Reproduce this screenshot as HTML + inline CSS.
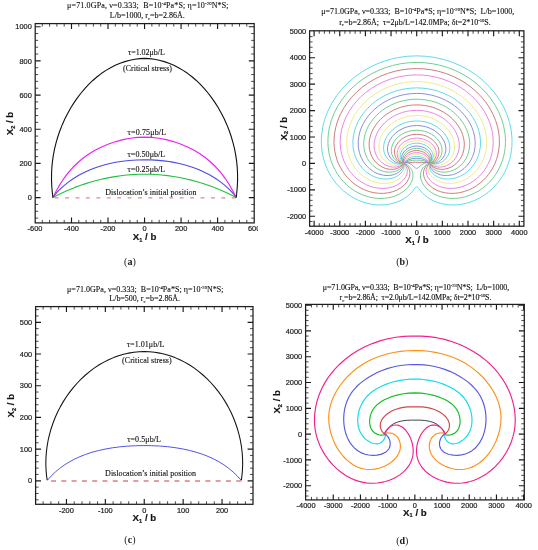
<!DOCTYPE html>
<html><head><meta charset="utf-8"><title>Frank-Read source</title><style>
html,body{margin:0;padding:0;background:#fff;}
svg{display:block;}
.tl{font-family:"Liberation Sans",Arial,sans-serif;font-size:7.4px;fill:#1c1c1c;stroke:#1c1c1c;stroke-width:0.2px;}
.sf{font-family:"Liberation Serif","Times New Roman",serif;font-size:8px;fill:#111;stroke:#111;stroke-width:0.12px;}
.sp{font-size:4.7px;}
.at{font-family:"Liberation Sans",Arial,sans-serif;font-size:9.7px;font-weight:bold;fill:#111;stroke:#111;stroke-width:0.15px;}
.sb{font-size:5.6px;}
.cap{font-family:"Liberation Serif","Times New Roman",serif;font-size:10px;fill:#1a1a1a;}
</style></head><body>
<svg width="538" height="550" viewBox="0 0 538 550">
<rect width="538" height="550" fill="#fff"/>
<defs><clipPath id="ca"><rect x="0" y="0" width="258" height="275"/></clipPath></defs>
<line x1="54.65" y1="197.8" x2="236.5" y2="197.8" stroke="#e48888" stroke-width="1.3" stroke-dasharray="3.9 6.52"/>
<path d="M53.1 197.5 56.81 195.48 62.98 192.5 68.56 190.02 74.4 187.64 79.95 185.57 85.74 183.61 91.6 181.83 97.33 180.27 103.29 178.84 109.1 177.62 114.95 176.59 120.82 175.73 126.72 175.05 132.44 174.58 138.36 174.28 144.1 174.19 149.97 174.26 155.7 174.52 161.62 174.98 167.52 175.63 173.4 176.47 179.43 177.52 185.25 178.71 191.21 180.13 197.13 181.72 202.99 183.5 208.79 185.45 214.53 187.57 220.36 189.94 226.12 192.5 232.29 195.48 236 197.5" fill="none" stroke="#22c040" stroke-width="1.1" stroke-linejoin="round" />
<path d="M53.1 197.5 52.9 197.17 53.81 196.04 56.36 193.08 59.16 190.11 63.75 185.83 68.6 181.91 73.54 178.45 78.68 175.32 84.19 172.42 90.07 169.77 96.11 167.46 102.29 165.47 108.78 163.75 115.57 162.31 122.44 161.21 129.35 160.43 136.49 159.95 143.82 159.79 151.39 159.9 158.53 160.33 165.65 161.08 172.52 162.13 179.32 163.52 186.03 165.24 192.42 167.26 198.47 169.54 204.37 172.16 209.9 175.03 215.23 178.23 220.17 181.67 225.2 185.69 229.79 189.97 232.6 192.92 235.16 195.88 236.2 197.17 236 197.5" fill="none" stroke="#4a4ae8" stroke-width="1.1" stroke-linejoin="round" />
<path d="M53.1 197.5 53.08 197.23 55.85 191.68 60.05 184.26 64.13 178.04 68.5 172.31 72.97 167.29 77.94 162.47 83.25 158.05 88.87 154.03 94.98 150.32 101.58 146.97 108.63 144.02 115.87 141.55 123.01 139.64 130.25 138.26 137.35 137.43 144.55 137.14 151.75 137.43 158.85 138.26 166.09 139.64 173.23 141.55 180.47 144.02 187.52 146.97 194.12 150.32 200.23 154.03 205.85 158.05 211.16 162.47 216.13 167.29 220.6 172.31 224.97 178.04 229.05 184.26 233.25 191.68 236.02 197.23 236 197.5" fill="none" stroke="#f020f0" stroke-width="1.2" stroke-linejoin="round" />
<path d="M53.1 197.5 52.91 197.27 52.46 193.9 51.78 186.49 51.51 180.11 51.55 173.41 51.87 167.41 52.49 161.12 53.41 154.88 54.62 148.68 56.11 142.55 57.9 136.48 59.96 130.5 62.18 124.9 64.79 119.08 67.52 113.66 70.67 108.05 73.91 102.87 77.38 97.84 80.87 93.25 84.8 88.6 88.71 84.41 92.81 80.46 97.11 76.76 101.6 73.33 106 70.37 110.56 67.69 115.27 65.31 120.14 63.25 124.84 61.61 129.96 60.22 134.85 59.25 139.8 58.62 144.55 58.36 149.3 58.62 154.25 59.25 159.14 60.22 164.26 61.61 168.96 63.25 173.83 65.31 178.54 67.69 183.1 70.37 187.5 73.33 191.99 76.76 196.29 80.46 200.39 84.41 204.3 88.6 208.23 93.25 211.72 97.84 215.19 102.87 218.43 108.05 221.58 113.66 224.31 119.08 226.92 124.9 229.14 130.5 231.2 136.48 232.99 142.55 234.48 148.68 235.69 154.88 236.61 161.12 237.23 167.41 237.55 173.41 237.59 180.11 237.32 186.49 236.64 193.9 236.19 197.27 236 197.5" fill="none" stroke="#111" stroke-width="1.1" stroke-linejoin="round" />
<path d="M42.28 222.9v-3M42.28 23.6v3M49.58 222.9v-3M49.58 23.6v3M56.89 222.9v-3M56.89 23.6v3M64.19 222.9v-3M64.19 23.6v3M78.8 222.9v-3M78.8 23.6v3M86.11 222.9v-3M86.11 23.6v3M93.41 222.9v-3M93.41 23.6v3M100.72 222.9v-3M100.72 23.6v3M115.33 222.9v-3M115.33 23.6v3M122.63 222.9v-3M122.63 23.6v3M129.94 222.9v-3M129.94 23.6v3M137.24 222.9v-3M137.24 23.6v3M151.86 222.9v-3M151.86 23.6v3M159.16 222.9v-3M159.16 23.6v3M166.47 222.9v-3M166.47 23.6v3M173.77 222.9v-3M173.77 23.6v3M188.38 222.9v-3M188.38 23.6v3M195.69 222.9v-3M195.69 23.6v3M202.99 222.9v-3M202.99 23.6v3M210.3 222.9v-3M210.3 23.6v3M224.91 222.9v-3M224.91 23.6v3M232.21 222.9v-3M232.21 23.6v3M239.52 222.9v-3M239.52 23.6v3M246.82 222.9v-3M246.82 23.6v3M35.2 218.11h3M254.2 218.11h-3M35.2 211.27h3M254.2 211.27h-3M35.2 204.44h3M254.2 204.44h-3M35.2 190.76h3M254.2 190.76h-3M35.2 183.93h3M254.2 183.93h-3M35.2 177.09h3M254.2 177.09h-3M35.2 170.26h3M254.2 170.26h-3M35.2 156.58h3M254.2 156.58h-3M35.2 149.75h3M254.2 149.75h-3M35.2 142.91h3M254.2 142.91h-3M35.2 136.08h3M254.2 136.08h-3M35.2 122.4h3M254.2 122.4h-3M35.2 115.57h3M254.2 115.57h-3M35.2 108.73h3M254.2 108.73h-3M35.2 101.9h3M254.2 101.9h-3M35.2 88.22h3M254.2 88.22h-3M35.2 81.39h3M254.2 81.39h-3M35.2 74.55h3M254.2 74.55h-3M35.2 67.72h3M254.2 67.72h-3M35.2 54.04h3M254.2 54.04h-3M35.2 47.21h3M254.2 47.21h-3M35.2 40.37h3M254.2 40.37h-3M35.2 33.54h3M254.2 33.54h-3" stroke="#2a2a2a" stroke-width="0.85" fill="none"/>
<path d="M71.5 222.9v-5.4M71.5 23.6v5.4M108.02 222.9v-5.4M108.02 23.6v5.4M144.55 222.9v-5.4M144.55 23.6v5.4M181.08 222.9v-5.4M181.08 23.6v5.4M217.6 222.9v-5.4M217.6 23.6v5.4M35.2 197.6h5.4M254.2 197.6h-5.4M35.2 163.42h5.4M254.2 163.42h-5.4M35.2 129.24h5.4M254.2 129.24h-5.4M35.2 95.06h5.4M254.2 95.06h-5.4M35.2 60.88h5.4M254.2 60.88h-5.4M35.2 26.7h5.4M254.2 26.7h-5.4" stroke="#1a1a1a" stroke-width="1.15" fill="none"/>
<rect x="35.2" y="23.6" width="219" height="199.3" fill="none" stroke="#1e1e1e" stroke-width="1.25"/>
<g class="tl"><text x="34.97" y="231.4" text-anchor="middle">-600</text><text x="71.5" y="231.4" text-anchor="middle">-400</text><text x="108.02" y="231.4" text-anchor="middle">-200</text><text x="144.55" y="231.4" text-anchor="middle">0</text><text x="181.08" y="231.4" text-anchor="middle">200</text><text x="217.6" y="231.4" text-anchor="middle">400</text><text x="31.8" y="200.25" text-anchor="end">0</text><text x="31.8" y="166.07" text-anchor="end">200</text><text x="31.8" y="131.89" text-anchor="end">400</text><text x="31.8" y="97.71" text-anchor="end">600</text><text x="31.8" y="63.53" text-anchor="end">800</text><text x="31.8" y="29.35" text-anchor="end">1000</text></g>
<g clip-path="url(#ca)"><text class="tl" x="254.13" y="231.4" text-anchor="middle">600</text></g>
<text class="sf" x="147.8" y="8" text-anchor="middle" textLength="161.6" lengthAdjust="spacing">μ=71.0GPa, ν=0.333;&#160; B=10<tspan class="sp" dy="-3.1">-4</tspan><tspan dy="3.1">Pa*S; η=10</tspan><tspan class="sp" dy="-3.1">-20</tspan><tspan dy="3.1">N*S;</tspan></text>
<text class="sf" x="147.3" y="18.4" text-anchor="middle" textLength="75" lengthAdjust="spacing">L/b=1000, r<tspan class="sp" dy="1.5">c</tspan><tspan dy="-1.5">=b=2.86Å.</tspan></text>
<text class="sf" x="146.4" y="54.6" text-anchor="middle" textLength="36.8" lengthAdjust="spacing">τ=1.02μb/L</text>
<text class="sf" x="147.5" y="71" text-anchor="middle" textLength="48.8" lengthAdjust="spacing">(Critical stress)</text>
<text class="sf" x="146.85" y="134.7" text-anchor="middle" textLength="38.5" lengthAdjust="spacing">τ=0.75μb/L</text>
<text class="sf" x="146.4" y="156.8" text-anchor="middle" textLength="37.6" lengthAdjust="spacing">τ=0.50μb/L</text>
<text class="sf" x="146.4" y="171.8" text-anchor="middle" textLength="37.6" lengthAdjust="spacing">τ=0.25μb/L</text>
<text class="sf" x="150.85" y="194.5" text-anchor="middle" textLength="91.3" lengthAdjust="spacing">Dislocation’s initial position</text>
<text class="at" x="144.6" y="240" text-anchor="middle">X<tspan class="sb" dy="1.6">1</tspan><tspan dy="-1.6"> / b</tspan></text>
<text class="at" transform="translate(13 123.5) rotate(-90)" x="0" y="0" text-anchor="middle">X<tspan class="sb" dy="1.6">2</tspan><tspan dy="-1.6"> / b</tspan></text>
<text class="cap" x="129.9" y="265" text-anchor="middle">(<tspan font-weight="bold">a</tspan>)</text>
<path d="M403.68 163.4 405.68 162.82 408.26 162.44 415.53 162.21 424.88 162.42 427.46 162.77 429.72 163.4" fill="none" stroke="#c86e6e" stroke-width="0.9" stroke-linejoin="round" />
<path d="M403.68 163.4 406.16 161.95 409.11 160.94 412.43 160.34 416.31 160.1 420.46 160.28 424.04 160.88 427.24 161.95 429.72 163.4" fill="none" stroke="#62c886" stroke-width="0.9" stroke-linejoin="round" />
<path d="M403.68 163.4 405.98 161.25 408.96 159.63 412.44 158.6 416.57 158.2 420.7 158.56 424.44 159.63 427.42 161.25 429.72 163.4" fill="none" stroke="#8080d6" stroke-width="0.9" stroke-linejoin="round" />
<path d="M403.68 163.4 404.62 161.8 405.64 160.6 407.04 159.4 408.81 158.29 410.47 157.53 412.45 156.91 414.5 156.54 416.57 156.4 418.64 156.5 420.69 156.85 422.69 157.44 424.59 158.29 426.36 159.4 427.76 160.6 428.78 161.8 429.72 163.4" fill="none" stroke="#4cd8e4" stroke-width="0.9" stroke-linejoin="round" />
<path d="M403.68 163.4 404.21 161.61 405.11 159.99 406.48 158.39 408.1 157.07 409.91 156.02 412.09 155.17 414.12 154.71 416.7 154.5 419.28 154.71 421.31 155.17 423.49 156.02 425.3 157.07 426.92 158.39 428.29 159.99 429.19 161.61 429.72 163.4" fill="none" stroke="#eeea80" stroke-width="0.9" stroke-linejoin="round" />
<path d="M403.68 163.4 403.78 161.53 404.43 159.5 405.54 157.69 407.17 155.97 409.1 154.61 411.46 153.5 413.72 152.88 416.57 152.6 419.16 152.79 421.69 153.42 423.85 154.35 426.03 155.8 427.7 157.48 428.85 159.26 429.57 161.27 429.72 163.4" fill="none" stroke="#e878e2" stroke-width="0.9" stroke-linejoin="round" />
<path d="M403.68 163.4 403.33 161.04 403.64 158.94 404.6 156.76 406.21 154.68 408.45 152.87 411 151.57 413.74 150.79 416.57 150.51 419.41 150.74 422.4 151.57 424.95 152.87 427 154.49 428.66 156.53 429.68 158.68 430.07 161.04 429.72 163.4" fill="none" stroke="#c86e6e" stroke-width="0.9" stroke-linejoin="round" />
<path d="M403.68 163.4 402.77 160.92 402.73 158.27 403.52 155.74 405.11 153.31 407.21 151.34 410.14 149.65 413.36 148.63 416.7 148.29 420.04 148.63 423.26 149.65 426.19 151.34 428.29 153.31 429.88 155.74 430.67 158.27 430.63 160.92 429.72 163.4" fill="none" stroke="#62c886" stroke-width="0.9" stroke-linejoin="round" />
<path d="M403.68 163.4 402.21 160.9 401.83 159.63 401.66 158.04 401.8 156.44 402.21 154.9 403.71 152.11 406.07 149.64 409.16 147.69 412.84 146.42 416.7 146 420.56 146.42 424.24 147.69 427.33 149.64 429.69 152.11 431.19 154.9 431.6 156.44 431.74 158.04 431.57 159.63 431.19 160.9 429.72 163.4" fill="none" stroke="#8080d6" stroke-width="0.9" stroke-linejoin="round" />
<path d="M403.68 163.4 402.37 162.11 401.46 160.81 400.68 159.12 400.31 157.56 400.23 155.96 400.47 154.11 401.06 152.34 401.92 150.69 403.01 149.19 404.48 147.68 406.35 146.24 408.16 145.19 410.32 144.27 412.32 143.69 414.37 143.34 416.7 143.2 419.03 143.34 421.08 143.69 423.08 144.27 425.24 145.19 427.05 146.24 428.92 147.68 430.39 149.19 431.48 150.69 432.34 152.34 432.93 154.11 433.17 155.96 433.09 157.56 432.72 159.12 431.94 160.81 431.03 162.11 429.72 163.4" fill="none" stroke="#4cd8e4" stroke-width="0.9" stroke-linejoin="round" />
<path d="M403.68 163.4 402 162.15 400.75 160.79 399.64 158.98 399.02 157.21 398.75 155.36 398.89 153.23 399.45 151.17 400.36 149.24 401.56 147.5 403.18 145.76 405.02 144.27 406.81 143.16 408.94 142.16 411.42 141.35 413.97 140.86 416.57 140.69 418.91 140.8 421.48 141.23 423.73 141.89 426.13 142.92 428.38 144.27 430.22 145.76 431.84 147.5 433.04 149.24 433.95 151.17 434.51 153.23 434.65 155.36 434.38 157.21 433.76 158.98 432.65 160.79 431.4 162.15 429.72 163.4" fill="none" stroke="#eeea80" stroke-width="0.9" stroke-linejoin="round" />
<path d="M403.68 163.4 401.84 162.41 400.03 160.9 398.57 159.02 397.66 157.1 397.16 155.02 397.1 152.89 397.52 150.52 398.39 148.29 399.78 146.03 401.33 144.23 403.3 142.49 405.71 140.91 408.07 139.77 410.78 138.87 413.59 138.31 416.44 138.1 419.55 138.27 422.36 138.8 424.85 139.58 427.46 140.78 429.89 142.33 431.7 143.85 433.62 146.03 434.89 148.05 435.8 150.27 436.28 152.62 436.24 155.02 435.74 157.1 434.83 159.02 433.37 160.9 431.56 162.41 429.72 163.4" fill="none" stroke="#e878e2" stroke-width="0.9" stroke-linejoin="round" />
<path d="M403.68 163.4 401.22 162.57 398.78 161.05 396.92 159.2 395.51 156.96 394.71 154.7 394.4 152.05 394.73 149.13 395.57 146.61 396.98 144.05 398.77 141.76 401.08 139.61 403.66 137.82 406.45 136.39 409.89 135.19 412.94 134.56 416.57 134.3 419.94 134.49 423.51 135.19 426.47 136.19 429.51 137.68 432.12 139.45 434.45 141.57 436.42 144.05 437.83 146.61 438.67 149.13 439 152.05 438.69 154.7 437.89 156.96 436.48 159.2 434.62 161.05 432.18 162.57 429.72 163.4" fill="none" stroke="#c86e6e" stroke-width="0.9" stroke-linejoin="round" />
<path d="M403.68 163.4 400.61 162.91 397.73 161.67 395.22 159.77 393.23 157.31 391.9 154.42 391.31 151.27 391.45 148.33 392.35 144.98 393.89 141.89 395.94 139.12 398.58 136.55 401.56 134.4 404.8 132.7 408.73 131.29 412.55 130.49 416.44 130.2 420.59 130.46 424.42 131.22 428.12 132.49 431.39 134.13 434.62 136.38 437.28 138.93 439.37 141.66 440.95 144.73 441.91 148.07 442.09 151.27 441.5 154.42 440.31 157.08 438.36 159.59 435.67 161.67 432.79 162.91 429.72 163.4" fill="none" stroke="#62c886" stroke-width="0.9" stroke-linejoin="round" />
<path d="M403.68 163.4 401.87 163.57 400.05 163.48 398.26 163.14 396.53 162.57 394.88 161.77 393.13 160.61 390.53 157.99 388.66 154.78 387.65 151.19 387.49 149.05 387.58 147.18 388.46 143.27 389.99 139.87 392.38 136.36 395.32 133.32 398.88 130.63 403.02 128.39 407.19 126.86 411.77 125.86 416.44 125.5 421.11 125.79 425.71 126.71 430.14 128.28 434.08 130.35 437.69 132.98 440.85 136.16 443.28 139.64 444.94 143.27 445.82 147.18 445.91 149.05 445.75 151.19 444.74 154.78 442.87 157.99 440.27 160.61 438.52 161.77 436.87 162.57 435.14 163.14 433.35 163.48 431.53 163.57 429.72 163.4" fill="none" stroke="#8080d6" stroke-width="0.9" stroke-linejoin="round" />
<path d="M403.68 163.4 401.68 163.97 399.61 164.19 397.53 164.09 395.48 163.7 393.51 163.02 391.42 161.94 389.7 160.73 387.97 159.11 386.64 157.46 385.41 155.41 384.57 153.45 383.98 151.39 383.64 149.01 383.61 146.86 383.87 144.47 384.41 142.12 385.2 139.85 386.23 137.68 388.84 133.69 392.26 130.02 396.43 126.81 401.02 124.28 405.66 122.53 410.99 121.33 416.44 120.91 421.89 121.26 426.99 122.31 431.91 124.07 436.75 126.67 441.14 130.02 444.56 133.69 447.17 137.68 448.84 141.61 449.44 143.94 449.76 146.33 449.78 148.74 449.52 150.87 449 152.94 448.23 154.93 447.2 156.79 445.78 158.71 444.1 160.39 442.21 161.8 440.13 162.91 438.17 163.63 436.13 164.06 433.79 164.19 431.72 163.97 429.72 163.4" fill="none" stroke="#4cd8e4" stroke-width="0.9" stroke-linejoin="round" />
<path d="M403.68 163.4 401.84 164.4 399.61 165.11 397.04 165.44 394.44 165.32 391.9 164.77 389.46 163.84 387.19 162.55 384.92 160.76 383.12 158.83 381.46 156.43 380.29 154.05 379.45 151.52 378.96 148.89 378.82 146.22 379.04 143.28 379.57 140.66 380.38 138.12 381.43 135.67 382.7 133.33 384.32 130.91 386.15 128.65 388.16 126.56 390.74 124.31 393.07 122.6 395.52 121.07 398.53 119.5 404.13 117.35 410.22 115.98 416.44 115.49 419.82 115.6 423.18 115.98 429.27 117.35 434.87 119.5 437.88 121.07 440.33 122.6 442.66 124.31 445.04 126.37 448.76 130.49 450.42 132.88 451.85 135.43 452.83 137.62 453.76 140.4 454.36 143.28 454.58 146.22 454.44 148.89 453.95 151.52 453.11 154.05 451.94 156.43 450.28 158.83 448.67 160.57 446.64 162.25 444.17 163.72 441.75 164.7 439.22 165.28 436.62 165.45 434.04 165.17 431.8 164.5 429.72 163.4" fill="none" stroke="#eeea80" stroke-width="0.9" stroke-linejoin="round" />
<path d="M403.68 163.4 401.65 165.06 399.31 166.22 396.29 166.99 393.17 167.13 390.08 166.7 387.11 165.75 384.31 164.32 381.76 162.47 379.51 160.25 377.61 157.7 376.09 154.9 375 151.89 374.34 148.75 374.11 145.55 374.31 142.34 374.89 139.18 375.73 136.37 376.95 133.41 378.32 130.83 380.21 127.94 382.35 125.25 384.53 122.95 387.29 120.5 390.02 118.45 392.9 116.63 395.91 115.03 399.02 113.66 402.46 112.45 406.24 111.45 409.57 110.84 416.31 110.32 419.95 110.42 423.32 110.77 426.9 111.4 430.44 112.3 433.65 113.38 436.78 114.69 440.04 116.37 442.95 118.15 445.7 120.17 448.3 122.4 450.7 124.85 452.88 127.51 454.53 129.92 456.22 132.93 457.49 135.87 458.45 138.93 459.09 142.34 459.29 145.55 459.06 148.75 458.4 151.89 457.31 154.9 455.79 157.7 453.89 160.25 451.64 162.47 449.09 164.32 446.29 165.75 443.32 166.7 440.23 167.13 437.11 166.99 434.09 166.22 431.75 165.06 429.72 163.4" fill="none" stroke="#e878e2" stroke-width="0.9" stroke-linejoin="round" />
<path d="M403.68 163.4 401.89 165.68 399.34 167.52 396.2 168.79 392.87 169.35 389.23 169.24 385.67 168.47 382.06 166.97 378.96 165.01 376.37 162.77 373.97 159.96 371.88 156.56 370.45 153.12 369.52 149.5 369.11 145.77 369.2 142.03 369.82 138.06 370.76 134.72 372.02 131.49 373.72 128.17 375.72 125.04 377.82 122.31 380.5 119.39 383.41 116.72 386.32 114.46 389.83 112.17 393.28 110.3 396.86 108.7 400.55 107.38 404.32 106.34 408.15 105.58 412.28 105.08 416.44 104.9 420.34 105.02 424.48 105.46 428.32 106.17 432.1 107.15 436.05 108.51 440.12 110.3 443.34 112.04 446.65 114.16 449.59 116.38 452.53 119.02 455.07 121.71 457.53 124.83 459.55 127.94 461.27 131.25 462.64 134.72 463.52 137.8 464.17 141.76 464.3 145.51 463.88 149.5 462.95 153.12 461.52 156.56 459.74 159.52 457.58 162.2 454.65 164.85 451.57 166.85 447.98 168.39 444.43 169.21 440.79 169.37 437.2 168.79 434.06 167.52 431.51 165.68 429.72 163.4" fill="none" stroke="#c86e6e" stroke-width="0.9" stroke-linejoin="round" />
<path d="M403.68 163.4 403.17 164.92 402.38 166.3 401.21 167.73 400.04 168.8 398.3 169.97 396.66 170.79 394.7 171.49 392.67 171.95 388.26 172.2 384.14 171.6 380.18 170.27 376.28 168.16 372.76 165.39 369.9 162.28 367.54 158.76 365.72 154.91 364.47 150.82 363.79 146.33 363.77 141.78 364.36 137.26 365.27 133.63 366.73 129.62 368.48 126.03 370.69 122.4 373.22 119 376.22 115.65 379.29 112.77 382.59 110.15 386.29 107.66 390.18 105.49 394.22 103.63 398.63 102.01 402.64 100.88 407.24 99.95 411.89 99.39 416.31 99.2 420.73 99.33 425.39 99.83 430.25 100.76 434.52 101.93 438.46 103.34 442.75 105.25 446.43 107.25 450.39 109.84 453.71 112.42 457 115.46 460.02 118.79 462.56 122.18 464.67 125.57 466.46 129.14 467.89 132.87 468.94 136.74 469.6 141.24 469.64 145.79 469.1 150.04 467.87 154.41 466.12 158.29 463.66 162.07 460.83 165.21 457.56 167.86 453.45 170.17 449.26 171.6 445.14 172.2 440.73 171.95 438.7 171.49 436.74 170.79 435.1 169.97 433.36 168.8 432.19 167.73 431.02 166.3 430.23 164.92 429.72 163.4" fill="none" stroke="#62c886" stroke-width="0.9" stroke-linejoin="round" />
<path d="M403.68 163.4 403.63 165 403.15 166.81 402.32 168.47 401.04 170.16 399.29 171.76 397.55 172.94 395.68 173.88 393.22 174.75 390.93 175.25 388.35 175.51 386 175.5 383.42 175.23 378.63 174 375.98 172.89 373.67 171.66 369.61 168.76 366.06 165.23 363.1 161.16 360.9 156.9 359.34 152.36 358.37 147.1 358.2 141.75 358.79 136.43 359.84 132.01 361.25 127.98 363.15 123.87 365.57 119.74 368.36 115.87 371.48 112.27 374.89 108.97 378.55 105.96 382.87 102.99 387.2 100.52 391.7 98.42 396.34 96.68 401.36 95.24 406.2 94.26 411.37 93.63 416.31 93.41 421.51 93.59 426.42 94.14 431.79 95.18 436.56 96.52 440.98 98.12 445.5 100.17 450.08 102.71 454.22 105.49 457.92 108.44 461.56 111.89 464.71 115.46 467.54 119.3 470 123.39 471.95 127.48 473.41 131.5 474.56 136.17 475.17 141.22 475.08 146.57 474.19 151.84 472.7 156.41 470.3 161.16 467.52 165.02 463.99 168.59 459.96 171.52 455.26 173.81 452.53 174.69 450.24 175.18 447.65 175.49 445.32 175.52 442.72 175.29 440.43 174.82 438.2 174.08 435.85 172.94 434.11 171.76 432.36 170.16 431.08 168.47 430.25 166.81 429.77 165 429.72 163.4" fill="none" stroke="#8080d6" stroke-width="0.9" stroke-linejoin="round" />
<path d="M403.68 163.4 404.11 165.22 404.04 167.36 403.45 169.41 402.31 171.51 400.8 173.35 398.81 175.07 396.59 176.46 393.97 177.63 391.21 178.44 388.39 178.91 385.53 179.06 382.68 178.89 379.85 178.45 376.82 177.64 374.13 176.64 371.31 175.27 366.71 172.24 364.5 170.36 362.46 168.3 358.9 163.69 356.22 158.79 354.31 153.53 353.15 147.76 352.85 141.88 353.43 135.75 354.47 131.05 356.07 126.24 358.03 121.85 360.8 117.01 364.04 112.47 367.32 108.67 371.28 104.8 375.15 101.62 379.68 98.48 383.99 95.98 389.18 93.5 394.3 91.54 399.81 89.94 405.17 88.84 410.59 88.16 416.31 87.89 422.03 88.09 427.72 88.76 432.83 89.76 438.36 91.3 443.74 93.29 448.72 95.62 453.5 98.34 457.83 101.31 462.12 104.8 466.08 108.67 469.36 112.47 472.31 116.56 474.88 120.91 477.13 125.74 478.71 130.28 479.83 134.96 480.52 141.08 480.37 146.7 479.37 152.49 477.5 158.06 474.79 163.24 471.29 167.91 467.31 171.75 465.21 173.34 462.55 175.02 459.75 176.43 456.82 177.56 453.81 178.39 450.98 178.87 448.13 179.05 445.27 178.94 442.44 178.5 439.68 177.72 437.04 176.58 434.8 175.22 432.79 173.53 431.24 171.73 430.05 169.65 429.41 167.62 429.27 165.49 429.72 163.4" fill="none" stroke="#4cd8e4" stroke-width="0.9" stroke-linejoin="round" />
<path d="M403.68 163.4 404.81 165.5 405.31 167.85 405.16 170.25 404.33 172.78 402.98 175.07 401.06 177.25 398.61 179.24 395.65 180.93 392.74 182.08 389.46 182.92 386.1 183.35 382.46 183.38 379.1 183.03 375.78 182.34 372.3 181.23 368.95 179.77 366.2 178.26 363.36 176.36 360.9 174.38 358.6 172.21 356.3 169.65 354.37 167.12 352.51 164.21 351.02 161.39 349.64 158.21 348.68 155.43 347.79 152.07 347.17 148.65 346.73 142.24 346.85 139.03 347.26 135.3 348.31 130.05 349.99 124.7 352.09 119.8 355.03 114.43 358.33 109.62 361.87 105.33 366.13 101.01 370.54 97.25 375.24 93.88 380.87 90.52 386.28 87.9 392.13 85.64 397.63 84.01 403.74 82.7 409.94 81.9 416.18 81.61 422.42 81.82 428.88 82.58 435.01 83.82 440.53 85.4 446.4 87.59 451.84 90.16 457.06 93.17 462.02 96.61 466.68 100.47 470.64 104.36 474.59 108.98 477.94 113.76 480.72 118.6 483.12 123.95 484.81 129.02 486.02 134.5 486.46 137.96 486.66 141.43 486.61 144.65 486.3 148.12 485.72 151.55 484.95 154.67 483.86 157.96 482.61 160.91 481.15 163.75 479.33 166.69 477.44 169.24 475.17 171.83 470.67 175.88 468.09 177.7 465.15 179.42 462.07 180.85 458.62 182.06 454.82 182.95 451.46 183.35 447.82 183.38 444.45 183.01 441.16 182.24 438.22 181.14 435.23 179.53 432.72 177.61 430.58 175.28 429.18 173.03 428.29 170.51 428.09 167.85 428.59 165.5 429.72 163.4" fill="none" stroke="#eeea80" stroke-width="0.9" stroke-linejoin="round" />
<path d="M403.68 163.4 405.66 165.52 406.93 168.15 407.35 171.05 406.95 173.96 405.74 176.92 403.78 179.76 401.14 182.34 397.9 184.57 394.85 186.08 390.89 187.4 387.06 188.14 382.64 188.43 378.49 188.19 374.38 187.49 370.37 186.35 366.48 184.8 363 182.99 359.9 181.02 356.97 178.78 354.23 176.31 351.7 173.61 349.39 170.71 347.32 167.63 345.49 164.38 343.93 160.99 342.63 157.49 341.54 153.63 340.77 149.69 340.34 145.96 340.18 142.21 340.31 138.19 340.74 134.2 341.89 128.42 343.61 122.8 345.97 117.14 348.99 111.51 352.69 106 356.52 101.27 361.12 96.52 366.1 92.22 371.42 88.36 377.03 84.98 383.14 81.96 389.21 79.56 395.95 77.51 402.58 76.1 409.29 75.23 416.31 74.9 423.33 75.16 429.79 75.93 436.18 77.2 442.96 79.14 449.3 81.54 455.21 84.35 460.88 87.65 466.47 91.57 471.51 95.81 476.17 100.48 480.4 105.57 483.99 110.83 487.2 116.66 489.52 122.05 491.38 127.9 492.58 133.67 493.03 137.39 493.21 141.14 493.12 145.16 492.75 148.89 492.04 152.84 491.1 156.46 489.78 160.25 488.27 163.66 486.36 167.17 484.32 170.28 482.04 173.21 479.54 175.94 476.63 178.61 473.71 180.86 470.63 182.86 467.39 184.58 463.03 186.35 459.02 187.49 454.91 188.19 450.76 188.43 446.86 188.21 443.01 187.53 439.28 186.37 435.96 184.83 432.67 182.67 429.97 180.15 427.79 177.15 426.53 174.22 426.05 171.05 426.47 168.15 427.74 165.52 429.72 163.4" fill="none" stroke="#e878e2" stroke-width="0.9" stroke-linejoin="round" />
<path d="M403.68 163.4 405.26 164.33 406.49 165.33 407.72 166.7 408.58 168.04 409.33 169.75 409.73 171.3 409.91 173.17 409.82 174.77 409.46 176.61 408.87 178.38 406.96 181.87 404.21 185.09 400.73 187.9 396.87 190.1 392.74 191.72 388.18 192.84 383.53 193.36 378.59 193.31 373.94 192.71 369.39 191.61 364.72 189.93 360.94 188.13 357.33 186 353.9 183.56 350.69 180.84 347.72 177.84 345.16 174.81 342.69 171.35 340.38 167.47 338.52 163.64 337.06 159.91 335.74 155.57 334.84 151.38 334.28 147.41 334.01 143.13 334.08 138.31 334.48 134.04 335.68 127.46 337.57 121.06 340.09 114.88 343.31 108.76 347.09 102.98 351.72 97.19 356.67 92.06 361.62 87.72 367.77 83.22 373.82 79.55 380.38 76.28 387.42 73.5 394.41 71.4 401.29 69.92 408.77 68.94 416.31 68.59 423.33 68.83 430.83 69.7 438.48 71.27 445.48 73.33 452.54 76.07 458.89 79.17 464.97 82.79 470.95 87.07 476.54 91.88 481.68 97.19 485.84 102.34 489.68 108.08 492.97 114.16 495.56 120.3 497.52 126.68 498.82 133.25 499.27 137.5 499.41 141.79 499.24 146.07 498.65 150.86 497.79 155.05 496.52 159.41 494.88 163.64 493.14 167.23 490.85 171.13 488.56 174.39 486.03 177.45 482.9 180.66 479.91 183.24 476.51 185.72 472.69 188.01 469.16 189.72 464.27 191.53 459.46 192.71 454.81 193.31 449.87 193.36 445.22 192.84 440.66 191.72 436.53 190.1 432.67 187.9 429.19 185.09 426.44 181.87 424.53 178.38 423.94 176.61 423.58 174.77 423.49 173.17 423.67 171.3 424.07 169.75 424.82 168.04 425.68 166.7 426.91 165.33 428.14 164.33 429.72 163.4" fill="none" stroke="#c86e6e" stroke-width="0.9" stroke-linejoin="round" />
<path d="M403.68 163.4 405.42 163.96 407.28 164.93 408.95 166.2 410.38 167.75 411.54 169.53 412.36 171.5 412.79 173.32 412.95 175.45 412.78 177.59 412.3 179.68 411.57 181.68 410.48 183.82 409.17 185.81 407.48 187.86 403.78 191.22 399.59 193.92 395.07 195.97 390.07 197.46 384.67 198.31 378.95 198.46 373.77 197.98 367.91 196.72 362.72 194.96 358.67 193.12 354.78 190.95 350.87 188.3 347.19 185.31 343.96 182.2 340.82 178.63 337.83 174.57 335.34 170.49 333.41 166.69 331.48 162 330.1 157.67 329.01 152.98 328.29 148.21 327.94 143.14 327.98 138.31 328.39 133.51 329.58 126.65 331.54 119.71 334.41 112.52 337.71 106.14 341.74 99.88 346.64 93.63 351.91 88.07 357.64 83.01 363.98 78.32 370.69 74.22 377.96 70.6 385.24 67.71 392.48 65.51 400.12 63.85 408.38 62.77 416.18 62.41 423.98 62.68 432.25 63.67 439.4 65.13 447.17 67.38 454.96 70.39 462.02 73.84 468.76 77.89 474.94 82.35 480.91 87.52 486.06 92.84 491.05 99.02 495.15 105.22 498.54 111.55 501.59 118.95 503.57 125.61 504.95 132.98 505.41 138.05 505.48 142.6 505.2 147.41 504.54 152.19 503.44 157.15 502.1 161.5 500.32 165.96 498.06 170.49 495.57 174.57 492.58 178.63 489.44 182.2 486.21 185.31 482.53 188.3 478.62 190.95 474.73 193.12 470.68 194.96 465.49 196.72 459.63 197.98 454.45 198.46 448.73 198.31 443.33 197.46 438.33 195.97 433.81 193.92 429.62 191.22 425.92 187.86 424.23 185.81 422.92 183.82 421.83 181.68 421.1 179.68 420.62 177.59 420.45 175.45 420.61 173.32 421.04 171.5 421.86 169.53 423.02 167.75 424.45 166.2 426.12 164.93 427.98 163.96 429.72 163.4" fill="none" stroke="#62c886" stroke-width="0.9" stroke-linejoin="round" />
<path d="M416.7 186.82 415.96 187.01 415.36 187.49 412.39 191.47 409.71 194.3 407.13 196.48 404.37 198.4 401 200.3 397.22 201.96 393.32 203.25 389.57 204.13 385.5 204.73 381.15 204.98 376.28 204.82 372.2 204.34 367.93 203.49 363.23 202.14 358.43 200.28 354.48 198.37 350.47 196.03 346.85 193.53 343.21 190.6 339.8 187.4 336.47 183.74 333.73 180.24 331.24 176.56 328.89 172.47 326.95 168.45 325.11 163.8 323.69 159.28 322.66 154.92 321.92 150.5 321.46 145.76 321.32 141.28 321.53 136 322.61 127.89 323.58 123.52 324.8 119.21 327.86 111.09 331.89 103.12 336.71 95.65 342.42 88.52 348.79 82.01 355.96 76.02 363.86 70.63 372.01 66.15 380.28 62.56 389.32 59.59 398.58 57.47 407.73 56.25 416.96 55.86 426.43 56.32 434.82 57.47 444.08 59.59 452.4 62.29 460.23 65.59 468.43 69.96 475.78 74.79 482.87 80.45 489.05 86.4 494.65 92.93 499.48 99.76 503.75 107.28 507.04 114.73 509.62 122.75 511.24 130.49 512.01 138.37 511.91 146.29 511.48 150.5 510.74 154.92 509.71 159.28 508.38 163.56 506.87 167.48 504.99 171.53 502.84 175.44 500.58 178.96 497.93 182.53 495.04 185.89 492.11 188.86 488.8 191.78 485.09 194.59 481.61 196.85 477.77 198.96 474.26 200.59 470.17 202.14 466.47 203.24 462.21 204.17 458.14 204.73 453.79 204.98 449.69 204.88 445.86 204.47 441.58 203.64 437.87 202.57 434.51 201.28 431.03 199.59 427.73 197.55 425.25 195.67 422.94 193.58 420.68 191.06 418.22 187.68 417.66 187.15 416.95 186.84Z" fill="none" stroke="#4cd8e4" stroke-width="0.9" stroke-linejoin="round" />
<path d="M403.68 163.4 404.56 162.85 405.82 162.6 407.11 162.69 408.86 163.19 411.82 164.82 415.37 167.92 416.57 168.35 417.34 168.26 418.03 167.92 421.58 164.82 424.54 163.19 426.29 162.69 427.58 162.6 428.84 162.85 429.72 163.4" fill="none" stroke="#8a8ad8" stroke-width="0.85" stroke-linejoin="round" />
<path d="M319.23 226.2v-3M319.23 30.8v3M324.36 226.2v-3M324.36 30.8v3M329.49 226.2v-3M329.49 30.8v3M334.62 226.2v-3M334.62 30.8v3M344.88 226.2v-3M344.88 30.8v3M350.01 226.2v-3M350.01 30.8v3M355.14 226.2v-3M355.14 30.8v3M360.27 226.2v-3M360.27 30.8v3M370.53 226.2v-3M370.53 30.8v3M375.66 226.2v-3M375.66 30.8v3M380.79 226.2v-3M380.79 30.8v3M385.92 226.2v-3M385.92 30.8v3M396.18 226.2v-3M396.18 30.8v3M401.31 226.2v-3M401.31 30.8v3M406.44 226.2v-3M406.44 30.8v3M411.57 226.2v-3M411.57 30.8v3M421.83 226.2v-3M421.83 30.8v3M426.96 226.2v-3M426.96 30.8v3M432.09 226.2v-3M432.09 30.8v3M437.22 226.2v-3M437.22 30.8v3M447.48 226.2v-3M447.48 30.8v3M452.61 226.2v-3M452.61 30.8v3M457.74 226.2v-3M457.74 30.8v3M462.87 226.2v-3M462.87 30.8v3M473.13 226.2v-3M473.13 30.8v3M478.26 226.2v-3M478.26 30.8v3M483.39 226.2v-3M483.39 30.8v3M488.52 226.2v-3M488.52 30.8v3M498.78 226.2v-3M498.78 30.8v3M503.91 226.2v-3M503.91 30.8v3M509.04 226.2v-3M509.04 30.8v3M514.17 226.2v-3M514.17 30.8v3M309.6 221.5h3M523.9 221.5h-3M309.6 210.94h3M523.9 210.94h-3M309.6 205.66h3M523.9 205.66h-3M309.6 200.37h3M523.9 200.37h-3M309.6 195.09h3M523.9 195.09h-3M309.6 184.53h3M523.9 184.53h-3M309.6 179.25h3M523.9 179.25h-3M309.6 173.96h3M523.9 173.96h-3M309.6 168.68h3M523.9 168.68h-3M309.6 158.12h3M523.9 158.12h-3M309.6 152.84h3M523.9 152.84h-3M309.6 147.55h3M523.9 147.55h-3M309.6 142.27h3M523.9 142.27h-3M309.6 131.71h3M523.9 131.71h-3M309.6 126.43h3M523.9 126.43h-3M309.6 121.14h3M523.9 121.14h-3M309.6 115.86h3M523.9 115.86h-3M309.6 105.3h3M523.9 105.3h-3M309.6 100.02h3M523.9 100.02h-3M309.6 94.73h3M523.9 94.73h-3M309.6 89.45h3M523.9 89.45h-3M309.6 78.89h3M523.9 78.89h-3M309.6 73.61h3M523.9 73.61h-3M309.6 68.32h3M523.9 68.32h-3M309.6 63.04h3M523.9 63.04h-3M309.6 52.48h3M523.9 52.48h-3M309.6 47.2h3M523.9 47.2h-3M309.6 41.91h3M523.9 41.91h-3M309.6 36.63h3M523.9 36.63h-3" stroke="#2a2a2a" stroke-width="0.85" fill="none"/>
<path d="M314.1 226.2v-5.4M314.1 30.8v5.4M339.75 226.2v-5.4M339.75 30.8v5.4M365.4 226.2v-5.4M365.4 30.8v5.4M391.05 226.2v-5.4M391.05 30.8v5.4M416.7 226.2v-5.4M416.7 30.8v5.4M442.35 226.2v-5.4M442.35 30.8v5.4M468 226.2v-5.4M468 30.8v5.4M493.65 226.2v-5.4M493.65 30.8v5.4M519.3 226.2v-5.4M519.3 30.8v5.4M309.6 216.22h5.4M523.9 216.22h-5.4M309.6 189.81h5.4M523.9 189.81h-5.4M309.6 163.4h5.4M523.9 163.4h-5.4M309.6 136.99h5.4M523.9 136.99h-5.4M309.6 110.58h5.4M523.9 110.58h-5.4M309.6 84.17h5.4M523.9 84.17h-5.4M309.6 57.76h5.4M523.9 57.76h-5.4" stroke="#1a1a1a" stroke-width="1.15" fill="none"/>
<rect x="309.6" y="30.8" width="214.3" height="195.4" fill="none" stroke="#1e1e1e" stroke-width="1.25"/>
<g class="tl"><text x="314.1" y="234.7" text-anchor="middle">-4000</text><text x="339.75" y="234.7" text-anchor="middle">-3000</text><text x="365.4" y="234.7" text-anchor="middle">-2000</text><text x="391.05" y="234.7" text-anchor="middle">-1000</text><text x="416.7" y="234.7" text-anchor="middle">0</text><text x="442.35" y="234.7" text-anchor="middle">1000</text><text x="468" y="234.7" text-anchor="middle">2000</text><text x="493.65" y="234.7" text-anchor="middle">3000</text><text x="519.3" y="234.7" text-anchor="middle">4000</text><text x="306.2" y="218.87" text-anchor="end">-2000</text><text x="306.2" y="192.46" text-anchor="end">-1000</text><text x="306.2" y="166.05" text-anchor="end">0</text><text x="306.2" y="139.64" text-anchor="end">1000</text><text x="306.2" y="113.23" text-anchor="end">2000</text><text x="306.2" y="86.82" text-anchor="end">3000</text><text x="306.2" y="60.41" text-anchor="end">4000</text><text x="306.2" y="34" text-anchor="end">5000</text></g>
<text class="sf" x="417.75" y="13.6" text-anchor="middle" textLength="193.1" lengthAdjust="spacing">μ=71.0GPa, ν=0.333;&#160; B=10<tspan class="sp" dy="-3.1">-4</tspan><tspan dy="3.1">Pa*S; η=10</tspan><tspan class="sp" dy="-3.1">-20</tspan><tspan dy="3.1">N*S;&#160; L/b=1000,</tspan></text>
<text class="sf" x="415" y="24.9" text-anchor="middle" textLength="151.6" lengthAdjust="spacing">r<tspan class="sp" dy="1.5">c</tspan><tspan dy="-1.5">=b=2.86Å;&#160; τ=2μb/L=142.0MPa; δt=2*10</tspan><tspan class="sp" dy="-3.1">-10</tspan><tspan dy="3.1">S.</tspan></text>
<text class="at" x="417" y="243.1" text-anchor="middle">X<tspan class="sb" dy="1.6">1</tspan><tspan dy="-1.6"> / b</tspan></text>
<text class="at" transform="translate(286.8 128.7) rotate(-90)" x="0" y="0" text-anchor="middle">X<tspan class="sb" dy="1.6">2</tspan><tspan dy="-1.6"> / b</tspan></text>
<text class="cap" x="402.3" y="264.8" text-anchor="middle">(<tspan font-weight="bold">b</tspan>)</text>
<line x1="51.0" y1="480.9" x2="242" y2="480.9" stroke="#d88080" stroke-width="1.55" stroke-dasharray="5.0 5.29"/>
<path d="M47.5 480.1 51.28 475.93 55.34 472.03 59.61 468.46 64.24 465.1 69.25 461.96 74.44 459.17 79.99 456.61 85.7 454.37 91.95 452.31 98.33 450.58 105.02 449.1 112.21 447.84 119.67 446.86 127.38 446.15 135.33 445.72 143.26 445.59 151.67 445.68 159.61 446.05 167.33 446.7 175.01 447.65 182.43 448.89 189.34 450.38 195.94 452.13 202.2 454.16 208.12 456.44 213.68 458.98 218.89 461.75 223.91 464.86 228.56 468.2 233 471.88 237.07 475.77 241 480.1" fill="none" stroke="#4a4ae8" stroke-width="0.95" stroke-linejoin="round" />
<path d="M47.5 480.1 47.12 479.75 47.07 479.42 46.53 475.46 46.13 471.14 45.84 464.81 45.93 458.46 46.34 452.44 47.07 446.45 48.11 440.48 49.46 434.57 51.11 428.72 53.05 422.96 55.28 417.29 57.64 412.04 60.41 406.62 63.28 401.63 66.57 396.5 69.92 391.82 73.5 387.32 77.3 383 81.31 378.88 85.52 374.99 89.93 371.33 94.51 367.93 99.27 364.81 103.9 362.13 108.66 359.72 113.54 357.61 118.55 355.79 123.66 354.29 128.87 353.11 133.82 352.32 139.17 351.8 144.25 351.62 149.33 351.8 154.68 352.32 159.63 353.11 164.84 354.29 169.95 355.79 174.96 357.61 179.84 359.72 184.6 362.13 189.23 364.81 193.99 367.93 198.57 371.33 202.98 374.99 207.19 378.88 211.2 383 215 387.32 218.58 391.82 221.93 396.5 225.22 401.63 228.09 406.62 230.86 412.04 233.22 417.29 235.45 422.96 237.39 428.72 239.04 434.57 240.39 440.48 241.43 446.45 242.16 452.44 242.57 458.46 242.66 464.81 242.37 471.14 241.97 475.46 241.43 479.42 241.38 479.75 241 480.1" fill="none" stroke="#111" stroke-width="1.05" stroke-linejoin="round" />
<path d="M43.11 504.3v-3M43.11 306.6v3M50.89 504.3v-3M50.89 306.6v3M58.67 504.3v-3M58.67 306.6v3M74.23 504.3v-3M74.23 306.6v3M82.01 504.3v-3M82.01 306.6v3M89.79 504.3v-3M89.79 306.6v3M97.57 504.3v-3M97.57 306.6v3M113.13 504.3v-3M113.13 306.6v3M120.91 504.3v-3M120.91 306.6v3M128.69 504.3v-3M128.69 306.6v3M136.47 504.3v-3M136.47 306.6v3M152.03 504.3v-3M152.03 306.6v3M159.81 504.3v-3M159.81 306.6v3M167.59 504.3v-3M167.59 306.6v3M175.37 504.3v-3M175.37 306.6v3M190.93 504.3v-3M190.93 306.6v3M198.71 504.3v-3M198.71 306.6v3M206.49 504.3v-3M206.49 306.6v3M214.27 504.3v-3M214.27 306.6v3M229.83 504.3v-3M229.83 306.6v3M237.61 504.3v-3M237.61 306.6v3M245.39 504.3v-3M245.39 306.6v3M35.6 499.82h3M253 499.82h-3M35.6 493.48h3M253 493.48h-3M35.6 487.14h3M253 487.14h-3M35.6 474.46h3M253 474.46h-3M35.6 468.12h3M253 468.12h-3M35.6 461.78h3M253 461.78h-3M35.6 455.44h3M253 455.44h-3M35.6 442.76h3M253 442.76h-3M35.6 436.42h3M253 436.42h-3M35.6 430.08h3M253 430.08h-3M35.6 423.74h3M253 423.74h-3M35.6 411.06h3M253 411.06h-3M35.6 404.72h3M253 404.72h-3M35.6 398.38h3M253 398.38h-3M35.6 392.04h3M253 392.04h-3M35.6 379.36h3M253 379.36h-3M35.6 373.02h3M253 373.02h-3M35.6 366.68h3M253 366.68h-3M35.6 360.34h3M253 360.34h-3M35.6 347.66h3M253 347.66h-3M35.6 341.32h3M253 341.32h-3M35.6 334.98h3M253 334.98h-3M35.6 328.64h3M253 328.64h-3M35.6 315.96h3M253 315.96h-3M35.6 309.62h3M253 309.62h-3" stroke="#2a2a2a" stroke-width="0.85" fill="none"/>
<path d="M66.45 504.3v-5.4M66.45 306.6v5.4M105.35 504.3v-5.4M105.35 306.6v5.4M144.25 504.3v-5.4M144.25 306.6v5.4M183.15 504.3v-5.4M183.15 306.6v5.4M222.05 504.3v-5.4M222.05 306.6v5.4M35.6 480.8h5.4M253 480.8h-5.4M35.6 449.1h5.4M253 449.1h-5.4M35.6 417.4h5.4M253 417.4h-5.4M35.6 385.7h5.4M253 385.7h-5.4M35.6 354h5.4M253 354h-5.4M35.6 322.3h5.4M253 322.3h-5.4" stroke="#1a1a1a" stroke-width="1.15" fill="none"/>
<rect x="35.6" y="306.6" width="217.4" height="197.7" fill="none" stroke="#1e1e1e" stroke-width="1.25"/>
<g class="tl"><text x="66.45" y="512.8" text-anchor="middle">-200</text><text x="105.35" y="512.8" text-anchor="middle">-100</text><text x="144.25" y="512.8" text-anchor="middle">0</text><text x="183.15" y="512.8" text-anchor="middle">100</text><text x="222.05" y="512.8" text-anchor="middle">200</text><text x="32.2" y="483.45" text-anchor="end">0</text><text x="32.2" y="451.75" text-anchor="end">100</text><text x="32.2" y="420.05" text-anchor="end">200</text><text x="32.2" y="388.35" text-anchor="end">300</text><text x="32.2" y="356.65" text-anchor="end">400</text><text x="32.2" y="324.95" text-anchor="end">500</text></g>
<text class="sf" x="145.3" y="291.6" text-anchor="middle" textLength="156.6" lengthAdjust="spacing">μ=71.0GPa, ν=0.333;&#160; B=10<tspan class="sp" dy="-3.1">-4</tspan><tspan dy="3.1">Pa*S; η=10</tspan><tspan class="sp" dy="-3.1">-20</tspan><tspan dy="3.1">N*S;</tspan></text>
<text class="sf" x="144.7" y="301.4" text-anchor="middle" textLength="70.8" lengthAdjust="spacing">L/b=500, r<tspan class="sp" dy="1.5">c</tspan><tspan dy="-1.5">=b=2.86Å.</tspan></text>
<text class="sf" x="145.6" y="347.2" text-anchor="middle" textLength="37.6" lengthAdjust="spacing">τ=1.01μb/L</text>
<text class="sf" x="146.85" y="362.7" text-anchor="middle" textLength="49.5" lengthAdjust="spacing">(Critical stress)</text>
<text class="sf" x="144.1" y="442.1" text-anchor="middle" textLength="33.8" lengthAdjust="spacing">τ=0.5μb/L</text>
<text class="sf" x="150.6" y="475.9" text-anchor="middle" textLength="91" lengthAdjust="spacing">Dislocation’s initial position</text>
<text class="at" x="144.4" y="521.1" text-anchor="middle">X<tspan class="sb" dy="1.6">1</tspan><tspan dy="-1.6"> / b</tspan></text>
<text class="at" transform="translate(14 405.7) rotate(-90)" x="0" y="0" text-anchor="middle">X<tspan class="sb" dy="1.6">2</tspan><tspan dy="-1.6"> / b</tspan></text>
<text class="cap" x="129.9" y="543.2" text-anchor="middle">(<tspan font-weight="bold">c</tspan>)</text>
<path d="M385.07 434.23 384.96 434.21 385.3 433.25 386.24 431.18 387.17 429.6 388.27 428.13 389.43 426.85 390.76 425.67 392.21 424.61 393.81 423.66 397.39 422.12 401.53 421.01 406.2 420.34 411.4 420.12 420.02 420.14 424.81 420.48 429.73 421.36 431.98 422 434.03 422.77 436.01 423.73 437.78 424.81 439.37 426.03 440.8 427.41 442.11 429 443.22 430.74 444.28 432.95 444.74 434.21 444.63 434.23" fill="none" stroke="#222222" stroke-width="0.85" stroke-linejoin="round" />
<path d="M385.07 434.23 385.03 434.64 383.78 433.49 382.63 432.18 381.69 430.78 380.65 428.36 380.25 425.83 380.45 423.4 381.22 420.96 382.55 418.6 384.43 416.32 386.78 414.21 389.58 412.28 392.72 410.59 396.13 409.19 399.67 408.14 403.39 407.39 407.37 406.94 411.55 406.8 414.85 406.88 419.03 406.8 422.33 406.94 426.26 407.38 429.98 408.12 433.72 409.24 437.26 410.72 440.57 412.56 443.44 414.63 445.91 417.02 447.74 419.53 448.92 422.14 449.27 423.5 449.44 424.84 449.43 426.21 449.24 427.59 448.86 428.93 448.29 430.26 447.41 431.71 446.26 433.13 444.67 434.64 444.63 434.23" fill="none" stroke="#d04848" stroke-width="1.15" stroke-linejoin="round" />
<path d="M385.07 434.23 385.5 434.78 383.57 435.03 381.77 435.09 379.12 434.82 376.75 434.11 374.92 433.12 373.34 431.8 372.02 430.19 370.95 428.24 370.19 426.04 369.74 423.61 369.62 421.02 369.83 418.37 370.38 415.67 371.22 413.1 372.36 410.66 373.75 408.45 375.06 406.8 376.61 405.19 378.35 403.68 380.32 402.24 382.5 400.86 384.89 399.57 390.4 397.16 396.09 395.32 402.09 393.99 408.36 393.18 414.85 392.9 421.34 393.18 427.61 393.99 433.61 395.32 439.3 397.16 444.81 399.57 447.2 400.86 449.38 402.24 451.35 403.68 453.09 405.19 454.64 406.8 455.95 408.45 457.34 410.66 458.48 413.1 459.32 415.67 459.87 418.37 460.08 421.02 459.96 423.61 459.51 426.04 458.75 428.24 457.68 430.19 456.36 431.8 454.78 433.12 452.95 434.11 450.58 434.82 447.93 435.09 446.13 435.03 444.2 434.78 444.63 434.23" fill="none" stroke="#10c020" stroke-width="1.15" stroke-linejoin="round" />
<path d="M385.07 434.23 386.04 434.16 385.58 435.84 384.47 438.58 383.02 440.77 381.71 442.05 380.28 442.97 378.67 443.58 376.97 443.85 375.14 443.8 373.27 443.44 371.32 442.76 369.41 441.81 367.48 440.58 365.67 439.12 363.94 437.43 362.46 435.65 361.38 434.06 360.44 432.39 359.61 430.59 358.93 428.72 358.01 424.83 357.66 420.63 357.89 416.28 358.73 411.85 360.11 407.53 362.02 403.41 363.69 400.62 365.54 398.08 367.6 395.75 369.92 393.56 372.54 391.46 375.4 389.52 378.55 387.69 382.06 385.95 385.81 384.36 389.63 382.98 393.61 381.8 397.73 380.82 401.9 380.06 406.19 379.52 410.51 379.19 414.84 379.09 419.19 379.19 423.51 379.52 427.8 380.06 431.97 380.82 436.09 381.8 440.07 382.98 443.89 384.36 447.64 385.95 451.15 387.69 454.3 389.52 457.16 391.46 459.78 393.56 462.1 395.75 464.16 398.08 466.01 400.62 467.68 403.41 469.59 407.53 470.97 411.85 471.81 416.28 472.04 420.63 471.69 424.83 470.77 428.72 470.09 430.59 469.26 432.39 468.32 434.06 467.24 435.65 465.76 437.43 464.03 439.12 462.22 440.58 460.29 441.81 458.38 442.76 456.43 443.44 454.56 443.8 452.73 443.85 451.03 443.58 449.42 442.97 447.99 442.05 446.68 440.77 445.23 438.58 444.12 435.84 443.66 434.16 444.63 434.23" fill="none" stroke="#10dce8" stroke-width="1.15" stroke-linejoin="round" />
<path d="M385.07 434.23 384.99 433.79 386.9 435.49 388.03 436.9 388.92 438.39 389.53 439.81 389.97 441.38 390.17 442.82 390.19 444.38 390.02 445.76 389.67 447.07 389.15 448.3 388.47 449.43 387.64 450.45 386.58 451.44 385.38 452.31 383.94 453.12 380.7 454.35 376.89 455.12 372.81 455.35 368.74 455.04 364.97 454.2 361.5 452.88 358.24 451.06 355.31 448.82 353.35 446.9 351.49 444.69 349.83 442.3 348.32 439.62 347.01 436.78 345.92 433.81 345.05 430.71 344.39 427.52 343.95 424.27 343.72 420.83 343.72 417.36 343.96 413.89 344.43 410.45 345.11 407.19 346.04 403.87 347.16 400.77 348.91 396.98 351.02 393.42 353.54 390.01 356.46 386.76 359.86 383.59 363.61 380.62 367.89 377.7 372.56 374.95 377.25 372.56 382.07 370.47 387.12 368.66 392.15 367.2 397.4 366.03 402.59 365.21 407.86 364.71 413.17 364.54 419.13 364.59 424.16 364.89 429.4 365.53 434.56 366.49 439.65 367.76 444.76 369.4 449.76 371.35 454.52 373.57 459.38 376.22 463.97 379.12 468.05 382.11 471.67 385.23 474.91 388.54 477.65 391.94 479.97 395.5 481.87 399.2 483.1 402.24 484.15 405.52 484.94 408.75 485.53 412.17 485.89 415.62 486.01 419.09 485.88 422.68 485.53 426.1 484.94 429.45 484.15 432.58 483.1 435.73 481.88 438.62 480.44 441.35 478.78 443.92 476.99 446.19 475.01 448.26 472.05 450.66 468.85 452.57 465.33 454.01 461.61 454.93 457.58 455.34 453.37 455.19 449.53 454.5 447.71 453.94 446.12 453.29 444.64 452.51 443.4 451.67 442.31 450.71 441.37 449.62 440.66 448.51 440.11 447.3 439.71 445.88 439.52 444.51 439.52 442.96 439.71 441.51 440.13 439.94 440.72 438.52 441.59 437.02 442.7 435.61 444.71 433.79 444.63 434.23" fill="none" stroke="#5858e0" stroke-width="1.15" stroke-linejoin="round" />
<path d="M385.07 434.23 384.76 433.27 387.74 432.94 389.2 432.98 390.77 433.18 392.21 433.55 393.53 434.07 395.55 435.3 397.22 436.89 398.61 438.9 399.6 441.15 400.2 443.56 400.41 446.04 400.24 448.51 399.71 450.89 398.76 453.33 397.46 455.65 395.84 457.84 393.82 460 391.8 461.75 389.6 463.36 387.24 464.8 384.58 466.16 381.82 467.3 378.97 468.23 376.09 468.92 373.38 469.34 370.69 469.55 368.05 469.51 365.47 469.26 362.95 468.79 360.48 468.11 357.93 467.18 355.45 466.03 353.05 464.69 349.62 462.33 346.4 459.59 343.4 456.5 340.52 452.98 337.92 449.17 335.61 445.13 333.6 440.9 331.86 436.35 330.52 431.87 329.54 427.34 328.93 422.81 328.7 418.49 328.85 414.25 329.36 410.1 330.25 405.89 331.56 401.61 333.71 396.34 336.53 390.95 339.87 385.77 343.66 380.84 347.86 376.22 352.55 371.81 357.57 367.81 362.87 364.24 368.42 361.1 374.35 358.32 380.46 355.97 386.91 354.01 393.49 352.49 400.34 351.39 407.24 350.72 414.34 350.5 421.57 350.67 428.48 351.28 435.34 352.33 441.93 353.79 448.4 355.69 454.7 358.05 460.65 360.78 466.22 363.87 471.55 367.39 476.61 371.35 481.34 375.71 485.58 380.3 489.52 385.34 492.9 390.49 495.77 395.87 497.97 401.12 499.31 405.39 500.25 409.59 500.81 413.73 501 417.96 500.81 422.45 500.22 426.98 499.27 431.51 497.96 435.99 496.25 440.55 494.26 444.8 491.88 449.01 489.29 452.83 486.42 456.37 483.43 459.46 480.22 462.22 476.8 464.6 474.4 465.95 471.93 467.11 469.38 468.06 466.92 468.75 464.4 469.23 461.82 469.5 459.19 469.55 456.5 469.37 453.79 468.95 450.91 468.28 448.06 467.37 445.29 466.23 442.62 464.89 440.25 463.46 438.04 461.86 436.01 460.12 433.97 457.97 432.33 455.79 431.01 453.48 430.04 451.05 429.46 448.51 429.29 446.04 429.5 443.56 430.1 441.15 431.09 438.9 432.48 436.89 434.15 435.3 436.17 434.07 437.49 433.55 438.93 433.18 440.5 432.98 441.96 432.94 444.94 433.27 444.63 434.23" fill="none" stroke="#ff9018" stroke-width="1.15" stroke-linejoin="round" />
<path d="M385.07 434.23 384.15 433.73 386.19 430.63 388.5 428.08 390.07 426.83 391.85 425.82 393.45 425.26 395.23 424.98 396.8 425.02 398.54 425.38 400.05 425.94 401.7 426.83 403.28 427.97 404.94 429.49 406.33 431.05 407.74 432.98 408.9 434.86 410.03 437.07 411 439.4 411.81 441.8 412.44 444.24 412.89 446.7 413.15 449.15 413.21 451.3 413.11 453.41 412.81 455.68 412.38 457.65 411.74 459.78 410.93 461.82 409.95 463.79 408.83 465.67 407.43 467.65 405.25 470.17 402.64 472.64 399.74 474.87 396.41 476.98 393.06 478.7 389.33 480.24 385.45 481.48 381.46 482.4 377.42 483 373.6 483.26 369.8 483.21 366.04 482.86 362.12 482.17 358.28 481.16 354.52 479.85 350.87 478.26 346.1 475.68 341.37 472.51 336.92 468.89 332.79 464.87 328.99 460.5 325.44 455.61 322.44 450.65 319.87 445.46 317.77 440.1 316.22 434.84 315.15 429.5 314.57 424.11 314.46 418.47 314.83 412.83 315.66 407.24 316.99 401.49 318.01 398.09 319.18 394.75 320.51 391.45 322.08 388.01 323.7 384.86 325.58 381.59 327.47 378.61 329.62 375.53 334.17 369.87 339.36 364.45 344.99 359.46 351.21 354.79 357.8 350.61 364.92 346.83 372.33 343.59 379.96 340.9 387.75 338.79 395.9 337.23 403.86 336.31 411.82 336 421.39 336.06 428.65 336.57 436.6 337.69 444.48 339.41 452.23 341.71 459.8 344.57 467.12 347.99 474.14 351.95 480.61 356.29 486.7 361.13 489.66 363.8 492.34 366.43 494.9 369.17 497.35 372.02 501.71 377.83 503.76 380.99 505.55 384.04 507.31 387.38 508.82 390.59 510.27 394.08 511.47 397.42 513.13 403.09 514.33 408.87 515.05 414.71 515.26 420.35 514.98 425.99 514.23 431.36 512.99 436.68 511.29 441.9 509.03 447.21 506.19 452.54 502.89 457.6 499.33 462.18 495.23 466.59 490.96 470.45 486.39 473.89 481.55 476.86 477.77 478.76 474.08 480.27 470.3 481.49 466.43 482.41 462.49 483 458.72 483.26 454.91 483.21 450.85 482.82 446.82 482.11 442.87 481.07 439.04 479.73 435.36 478.08 431.89 476.15 428.84 474.06 425.88 471.59 423.4 469.02 421.87 467.12 420.63 465.3 419.44 463.21 418.51 461.22 417.75 459.15 417.16 457 416.75 454.78 416.54 452.71 416.5 450.35 416.66 447.93 417.01 445.47 417.55 443.02 418.27 440.59 419.16 438.22 420.22 435.95 421.3 434.01 422.65 431.99 424.13 430.16 425.74 428.55 427.29 427.31 428.91 426.31 430.58 425.56 432.31 425.11 434.07 424.96 435.86 425.16 437.65 425.73 439.43 426.7 441.01 427.91 443.32 430.39 445.55 433.73 444.63 434.23" fill="none" stroke="#f0208c" stroke-width="1.15" stroke-linejoin="round" />
<path d="M311.49 499.9v-3M311.49 304.4v3M316.93 499.9v-3M316.93 304.4v3M322.37 499.9v-3M322.37 304.4v3M327.81 499.9v-3M327.81 304.4v3M338.69 499.9v-3M338.69 304.4v3M344.13 499.9v-3M344.13 304.4v3M349.57 499.9v-3M349.57 304.4v3M355.01 499.9v-3M355.01 304.4v3M365.89 499.9v-3M365.89 304.4v3M371.33 499.9v-3M371.33 304.4v3M376.77 499.9v-3M376.77 304.4v3M382.21 499.9v-3M382.21 304.4v3M393.09 499.9v-3M393.09 304.4v3M398.53 499.9v-3M398.53 304.4v3M403.97 499.9v-3M403.97 304.4v3M409.41 499.9v-3M409.41 304.4v3M420.29 499.9v-3M420.29 304.4v3M425.73 499.9v-3M425.73 304.4v3M431.17 499.9v-3M431.17 304.4v3M436.61 499.9v-3M436.61 304.4v3M447.49 499.9v-3M447.49 304.4v3M452.93 499.9v-3M452.93 304.4v3M458.37 499.9v-3M458.37 304.4v3M463.81 499.9v-3M463.81 304.4v3M474.69 499.9v-3M474.69 304.4v3M480.13 499.9v-3M480.13 304.4v3M485.57 499.9v-3M485.57 304.4v3M491.01 499.9v-3M491.01 304.4v3M501.89 499.9v-3M501.89 304.4v3M507.33 499.9v-3M507.33 304.4v3M512.77 499.9v-3M512.77 304.4v3M518.21 499.9v-3M518.21 304.4v3M305.6 496.02h3M524.3 496.02h-3M305.6 490.86h3M524.3 490.86h-3M305.6 480.54h3M524.3 480.54h-3M305.6 475.38h3M524.3 475.38h-3M305.6 470.22h3M524.3 470.22h-3M305.6 465.06h3M524.3 465.06h-3M305.6 454.74h3M524.3 454.74h-3M305.6 449.58h3M524.3 449.58h-3M305.6 444.42h3M524.3 444.42h-3M305.6 439.26h3M524.3 439.26h-3M305.6 428.94h3M524.3 428.94h-3M305.6 423.78h3M524.3 423.78h-3M305.6 418.62h3M524.3 418.62h-3M305.6 413.46h3M524.3 413.46h-3M305.6 403.14h3M524.3 403.14h-3M305.6 397.98h3M524.3 397.98h-3M305.6 392.82h3M524.3 392.82h-3M305.6 387.66h3M524.3 387.66h-3M305.6 377.34h3M524.3 377.34h-3M305.6 372.18h3M524.3 372.18h-3M305.6 367.02h3M524.3 367.02h-3M305.6 361.86h3M524.3 361.86h-3M305.6 351.54h3M524.3 351.54h-3M305.6 346.38h3M524.3 346.38h-3M305.6 341.22h3M524.3 341.22h-3M305.6 336.06h3M524.3 336.06h-3M305.6 325.74h3M524.3 325.74h-3M305.6 320.58h3M524.3 320.58h-3M305.6 315.42h3M524.3 315.42h-3M305.6 310.26h3M524.3 310.26h-3" stroke="#2a2a2a" stroke-width="0.85" fill="none"/>
<path d="M333.25 499.9v-5.4M333.25 304.4v5.4M360.45 499.9v-5.4M360.45 304.4v5.4M387.65 499.9v-5.4M387.65 304.4v5.4M414.85 499.9v-5.4M414.85 304.4v5.4M442.05 499.9v-5.4M442.05 304.4v5.4M469.25 499.9v-5.4M469.25 304.4v5.4M496.45 499.9v-5.4M496.45 304.4v5.4M523.65 499.9v-5.4M523.65 304.4v5.4M305.6 485.7h5.4M524.3 485.7h-5.4M305.6 459.9h5.4M524.3 459.9h-5.4M305.6 434.1h5.4M524.3 434.1h-5.4M305.6 408.3h5.4M524.3 408.3h-5.4M305.6 382.5h5.4M524.3 382.5h-5.4M305.6 356.7h5.4M524.3 356.7h-5.4M305.6 330.9h5.4M524.3 330.9h-5.4M305.6 305.1h5.4M524.3 305.1h-5.4" stroke="#1a1a1a" stroke-width="1.15" fill="none"/>
<rect x="305.6" y="304.4" width="218.7" height="195.5" fill="none" stroke="#1e1e1e" stroke-width="1.25"/>
<g class="tl"><text x="306.05" y="507.7" text-anchor="middle">-4000</text><text x="333.25" y="507.7" text-anchor="middle">-3000</text><text x="360.45" y="507.7" text-anchor="middle">-2000</text><text x="387.65" y="507.7" text-anchor="middle">-1000</text><text x="414.85" y="507.7" text-anchor="middle">0</text><text x="442.05" y="507.7" text-anchor="middle">1000</text><text x="469.25" y="507.7" text-anchor="middle">2000</text><text x="496.45" y="507.7" text-anchor="middle">3000</text><text x="523.65" y="507.7" text-anchor="middle">4000</text><text x="302.2" y="488.35" text-anchor="end">-2000</text><text x="302.2" y="462.55" text-anchor="end">-1000</text><text x="302.2" y="436.75" text-anchor="end">0</text><text x="302.2" y="410.95" text-anchor="end">1000</text><text x="302.2" y="385.15" text-anchor="end">2000</text><text x="302.2" y="359.35" text-anchor="end">3000</text><text x="302.2" y="333.55" text-anchor="end">4000</text><text x="302.2" y="307.75" text-anchor="end">5000</text></g>
<text class="sf" x="415.95" y="289.6" text-anchor="middle" textLength="186.5" lengthAdjust="spacing">μ=71.0GPa, ν=0.333;&#160; B=10<tspan class="sp" dy="-3.1">-4</tspan><tspan dy="3.1">Pa*S; η=10</tspan><tspan class="sp" dy="-3.1">-23</tspan><tspan dy="3.1">N*S;&#160; L/b=1000,</tspan></text>
<text class="sf" x="415.5" y="300.2" text-anchor="middle" textLength="151.8" lengthAdjust="spacing">r<tspan class="sp" dy="1.5">c</tspan><tspan dy="-1.5">=b=2.86Å;&#160; τ=2.0μb/L=142.0MPa; δt=2*10</tspan><tspan class="sp" dy="-3.1">-10</tspan><tspan dy="3.1">S.</tspan></text>
<text class="at" x="414.9" y="515.8" text-anchor="middle">X<tspan class="sb" dy="1.6">1</tspan><tspan dy="-1.6"> / b</tspan></text>
<text class="at" transform="translate(280.3 401.8) rotate(-90)" x="0" y="0" text-anchor="middle">X<tspan class="sb" dy="1.6">2</tspan><tspan dy="-1.6"> / b</tspan></text>
<text class="cap" x="402.3" y="543.7" text-anchor="middle">(<tspan font-weight="bold">d</tspan>)</text>
</svg>
</body></html>
